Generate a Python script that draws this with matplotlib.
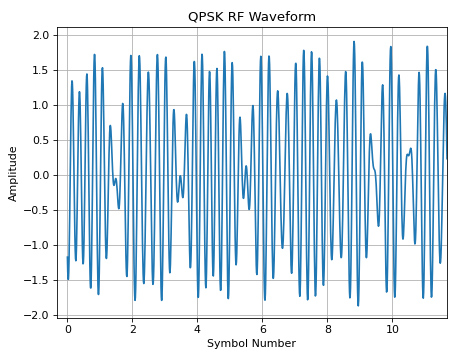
import numpy as np
import matplotlib
matplotlib.use('Agg')
import matplotlib.pyplot as plt

# QPSK symbols (symbol numbers -3 .. 15)
symbol_number = np.arange(-3, 16)
symbols_I = [-1, -1, -1, -1, -1, 1, 1, -1, -1, 1, 1, 1, -1, 1, -1, -1, -1, 1, 1]
symbols_Q = [1, 1, 1, 1, -1, 1, -1, 1, -1, 1, -1, -1, -1, 1, -1, 1, -1, -1, 1]

carrier_cycles_per_symbol = 4.005
carrier_phase_deg = 10.7
gain = 1.018
rolloff = 0.30
timing_offset = -0.02
samples_per_symbol = 100
t_end = 11.70


def rrc(t, b):
    t = np.asarray(t, float) + 1e-7
    d2 = 1 - (4 * b * t) ** 2
    t = np.where(np.abs(d2) < 1e-5, t + 1e-4, t)
    num = np.sin(np.pi * t * (1 - b)) + 4 * b * t * np.cos(np.pi * t * (1 + b))
    den = np.pi * t * (1 - (4 * b * t) ** 2)
    return num / den


t = np.arange(0, t_end, 1.0 / samples_per_symbol)
pulses = rrc(t[:, None] - symbol_number[None, :] - timing_offset, rolloff)
i_bb = pulses @ np.array(symbols_I, float)
q_bb = pulses @ np.array(symbols_Q, float)
ph = 2 * np.pi * carrier_cycles_per_symbol * t + np.deg2rad(carrier_phase_deg)
rf = gain * (i_bb * np.cos(ph) - q_bb * np.sin(ph))

plt.rcParams['font.size'] = 10.7
fig = plt.figure(figsize=(474 / 74, 357 / 74), dpi=74)
ax = fig.add_axes([0.1196, 0.110, 0.8228, 0.815])
ax.plot(t, rf, color='#1f77b4', lw=1.6)
ax.set_xlim(-0.33, 11.67)
ax.set_ylim(-2.04, 2.12)
ax.set_yticks(np.arange(-2.0, 2.01, 0.5))
ax.set_xticks(np.arange(0, 11, 2))
ax.tick_params(labelsize=10.7)
ax.grid(True)
ax.set_title('QPSK RF Waveform', fontsize=12.9)
ax.set_xlabel('Symbol Number', fontsize=10.7)
ax.set_ylabel('Amplitude', fontsize=10.7)
fig.savefig('out.png', dpi=74)
